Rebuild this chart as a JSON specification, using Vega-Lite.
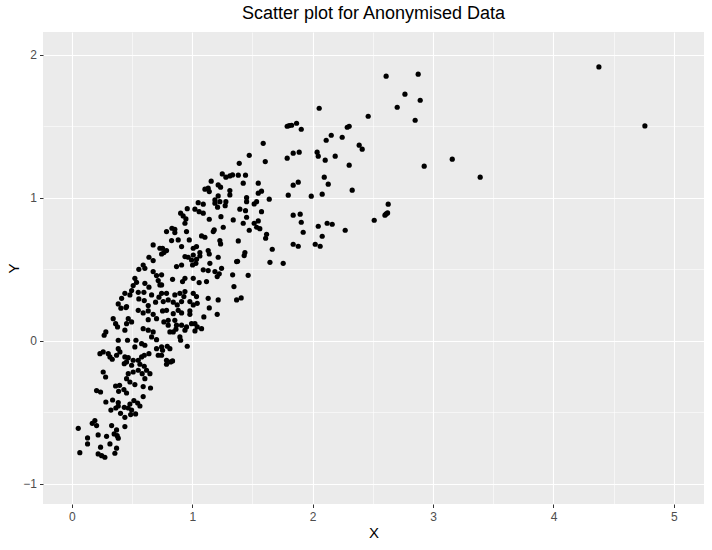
{
  "$schema": "https://vega.github.io/schema/vega-lite/v6.json",
  "title": {"text": "Scatter plot for Anonymised Data", "anchor": "middle", "fontSize": 18, "font": "Liberation Sans", "fontWeight": "normal", "color": "#000000", "offset": 9},
  "width": 661, "height": 472,
  "autosize": "none",
  "padding": {"left": 43, "top": 32, "right": 8, "bottom": 46},
  "background": "#ffffff",
  "config": {
    "view": {"fill": "#EBEBEB", "stroke": null},
    "axis": {"domain": false, "labelFont": "Liberation Sans", "titleFont": "Liberation Sans", "labelFontSize": 12, "labelColor": "#4D4D4D", "titleFontSize": 15, "titleFontWeight": "normal", "titleColor": "#000000", "tickColor": "#333333", "tickSize": 3.5, "gridColor": "#FFFFFF"}
  },
  "data": {"values": [
    {"x":0.205,"y":-0.347},{"x":0.238,"y":-0.357},{"x":0.363,"y":-0.315},{"x":0.396,"y":-0.310},{"x":0.388,"y":-0.352},{"x":0.432,"y":-0.340},{"x":0.454,"y":-0.364},{"x":0.523,"y":-0.305},{"x":0.592,"y":-0.319},{"x":0.653,"y":-0.329},
    {"x":0.282,"y":-0.427},{"x":0.338,"y":-0.413},{"x":0.385,"y":-0.431},{"x":0.385,"y":-0.455},{"x":0.324,"y":-0.483},{"x":0.365,"y":-0.469},{"x":0.435,"y":-0.464},{"x":0.468,"y":-0.469},{"x":0.482,"y":-0.441},{"x":0.515,"y":-0.417},
    {"x":0.546,"y":-0.434},{"x":0.565,"y":-0.455},{"x":0.496,"y":-0.483},{"x":0.488,"y":-0.515},{"x":0.529,"y":-0.510},{"x":0.440,"y":-0.534},{"x":0.404,"y":-0.506},{"x":0.592,"y":-0.389},{"x":0.191,"y":-0.557},{"x":0.169,"y":-0.576},
    {"x":0.205,"y":-0.592},{"x":0.330,"y":-0.592},{"x":0.440,"y":-0.599},{"x":0.371,"y":-0.622},{"x":0.351,"y":-0.650},{"x":0.376,"y":-0.662},{"x":0.385,"y":-0.680},{"x":0.218,"y":-0.657},{"x":0.288,"y":-0.667},{"x":0.130,"y":-0.678},
    {"x":0.130,"y":-0.720},{"x":0.316,"y":-0.720},{"x":0.238,"y":-0.743},{"x":0.371,"y":-0.750},{"x":0.218,"y":-0.790},{"x":0.247,"y":-0.802},{"x":0.274,"y":-0.813},{"x":0.357,"y":-0.785},{"x":0.053,"y":-0.611},{"x":0.066,"y":-0.781},
    {"x":0.407,"y":0.229},{"x":0.449,"y":0.233},{"x":0.551,"y":0.214},{"x":0.592,"y":0.196},{"x":0.634,"y":0.210},{"x":0.675,"y":0.186},{"x":0.634,"y":0.149},{"x":0.703,"y":0.156},{"x":0.343,"y":0.156},{"x":0.363,"y":0.121},
    {"x":0.379,"y":0.098},{"x":0.468,"y":0.156},{"x":0.454,"y":0.121},{"x":0.496,"y":0.133},{"x":0.440,"y":0.075},{"x":0.282,"y":0.063},{"x":0.268,"y":0.040},{"x":0.592,"y":0.086},{"x":0.634,"y":0.075},{"x":0.675,"y":0.063},
    {"x":0.662,"y":0.028},{"x":0.703,"y":0.009},{"x":0.385,"y":0.005},{"x":0.462,"y":0.005},{"x":0.532,"y":0.005},{"x":0.523,"y":-0.042},{"x":0.579,"y":-0.019},{"x":0.606,"y":-0.030},{"x":0.233,"y":-0.089},{"x":0.260,"y":-0.077},
    {"x":0.302,"y":-0.089},{"x":0.316,"y":-0.112},{"x":0.335,"y":-0.128},{"x":0.371,"y":-0.100},{"x":0.385,"y":-0.054},{"x":0.399,"y":-0.077},{"x":0.440,"y":-0.112},{"x":0.454,"y":-0.147},{"x":0.468,"y":-0.117},{"x":0.509,"y":-0.135},
    {"x":0.551,"y":-0.135},{"x":0.579,"y":-0.112},{"x":0.601,"y":-0.100},{"x":0.640,"y":-0.089},{"x":0.703,"y":-0.054},{"x":0.717,"y":-0.100},{"x":0.565,"y":-0.163},{"x":0.601,"y":-0.177},{"x":0.496,"y":-0.170},{"x":0.435,"y":-0.159},
    {"x":0.260,"y":-0.217},{"x":0.280,"y":-0.252},{"x":0.468,"y":-0.229},{"x":0.509,"y":-0.217},{"x":0.551,"y":-0.205},{"x":0.584,"y":-0.229},{"x":0.620,"y":-0.205},{"x":0.648,"y":-0.229},{"x":0.606,"y":-0.264},{"x":0.454,"y":-0.264},
    {"x":0.482,"y":-0.287},
    {"x":0.753,"y":0.210},{"x":0.786,"y":0.214},{"x":0.842,"y":0.191},{"x":0.883,"y":0.214},{"x":0.911,"y":0.196},{"x":0.980,"y":0.210},{"x":0.980,"y":0.186},{"x":0.764,"y":0.133},{"x":0.800,"y":0.144},{"x":0.800,"y":0.110},
    {"x":0.855,"y":0.144},{"x":0.869,"y":0.110},{"x":0.864,"y":0.082},{"x":0.842,"y":0.063},{"x":0.814,"y":0.063},{"x":0.911,"y":0.110},{"x":0.939,"y":0.075},{"x":0.952,"y":0.098},{"x":0.994,"y":0.121},{"x":1.022,"y":0.121},
    {"x":1.041,"y":0.098},{"x":1.077,"y":0.086},{"x":1.022,"y":0.070},{"x":0.897,"y":0.028},{"x":0.903,"y":0.005},{"x":1.096,"y":0.168},{"x":1.141,"y":0.231},{"x":1.207,"y":0.186},{"x":0.958,"y":-0.037},{"x":0.745,"y":-0.042},
    {"x":0.753,"y":-0.065},{"x":0.792,"y":-0.037},{"x":0.814,"y":-0.054},{"x":0.745,"y":-0.100},{"x":0.786,"y":-0.135},{"x":0.786,"y":-0.163},{"x":0.820,"y":-0.147},{"x":0.836,"y":-0.140},
    {"x":0.675,"y":0.671},{"x":0.731,"y":0.648},{"x":0.745,"y":0.608},{"x":0.640,"y":0.585},{"x":0.675,"y":0.562},{"x":0.592,"y":0.531},{"x":0.556,"y":0.501},{"x":0.606,"y":0.508},{"x":0.675,"y":0.485},{"x":0.703,"y":0.457},
    {"x":0.717,"y":0.422},{"x":0.745,"y":0.392},{"x":0.523,"y":0.438},{"x":0.537,"y":0.410},{"x":0.509,"y":0.387},{"x":0.496,"y":0.352},{"x":0.482,"y":0.322},{"x":0.551,"y":0.340},{"x":0.598,"y":0.340},{"x":0.606,"y":0.403},
    {"x":0.640,"y":0.376},{"x":0.440,"y":0.333},{"x":0.413,"y":0.298},{"x":0.385,"y":0.259},{"x":0.454,"y":0.240},{"x":0.556,"y":0.294},{"x":0.601,"y":0.282},{"x":0.634,"y":0.247},{"x":0.662,"y":0.322},{"x":0.695,"y":0.271},
    {"x":0.723,"y":0.306},{"x":0.745,"y":0.333},
    {"x":0.786,"y":0.765},{"x":0.855,"y":0.758},{"x":0.952,"y":0.765},{"x":1.077,"y":0.734},{"x":1.105,"y":0.725},{"x":1.174,"y":0.765},{"x":0.828,"y":0.702},{"x":0.883,"y":0.706},{"x":0.975,"y":0.706},{"x":0.911,"y":0.660},
    {"x":1.229,"y":0.702},{"x":1.235,"y":0.678},{"x":0.753,"y":0.648},{"x":0.764,"y":0.618},{"x":0.786,"y":0.632},{"x":1.008,"y":0.648},{"x":1.035,"y":0.660},{"x":1.132,"y":0.632},{"x":1.141,"y":0.608},{"x":1.008,"y":0.601},
    {"x":0.966,"y":0.585},{"x":0.994,"y":0.566},{"x":0.939,"y":0.590},{"x":1.035,"y":0.571},{"x":1.063,"y":0.594},{"x":1.063,"y":0.618},{"x":1.030,"y":0.543},{"x":1.002,"y":0.531},{"x":1.146,"y":0.543},{"x":1.215,"y":0.585},
    {"x":1.368,"y":0.555},{"x":0.869,"y":0.520},{"x":0.911,"y":0.531},{"x":1.091,"y":0.497},{"x":1.132,"y":0.492},{"x":1.188,"y":0.485},{"x":1.224,"y":0.469},{"x":1.243,"y":0.508},{"x":0.745,"y":0.462},{"x":0.836,"y":0.431},
    {"x":0.919,"y":0.415},{"x":0.939,"y":0.438},{"x":1.008,"y":0.438},{"x":1.057,"y":0.408},{"x":1.118,"y":0.415},{"x":1.207,"y":0.450},{"x":1.335,"y":0.462},{"x":1.346,"y":0.380},{"x":0.731,"y":0.392},{"x":0.786,"y":0.333},
    {"x":0.855,"y":0.322},{"x":0.897,"y":0.333},{"x":0.930,"y":0.310},{"x":0.939,"y":0.345},{"x":1.008,"y":0.333},{"x":1.035,"y":0.310},{"x":1.132,"y":0.298},{"x":1.215,"y":0.287},{"x":1.368,"y":0.287},{"x":0.759,"y":0.275},
    {"x":0.800,"y":0.287},{"x":0.842,"y":0.271},{"x":0.875,"y":0.252},{"x":0.911,"y":0.275},{"x":0.980,"y":0.275},{"x":1.008,"y":0.252},{"x":1.041,"y":0.263},
    {"x":1.589,"y":1.382},{"x":1.249,"y":1.168},{"x":1.279,"y":1.145},{"x":1.312,"y":1.154},{"x":1.334,"y":1.161},{"x":1.157,"y":1.117},{"x":1.215,"y":1.091},{"x":1.235,"y":1.075},{"x":1.105,"y":1.061},{"x":1.132,"y":1.068},
    {"x":1.141,"y":1.044},{"x":1.312,"y":1.051},{"x":1.312,"y":1.021},{"x":1.188,"y":0.986},{"x":1.188,"y":0.963},{"x":1.215,"y":1.014},{"x":1.229,"y":0.974},{"x":1.279,"y":0.974},{"x":1.273,"y":0.946},{"x":1.049,"y":0.967},
    {"x":1.091,"y":0.956},{"x":0.958,"y":0.925},{"x":1.022,"y":0.921},{"x":1.057,"y":0.904},{"x":1.091,"y":0.893},{"x":0.903,"y":0.893},{"x":0.924,"y":0.874},{"x":0.947,"y":0.853},{"x":0.939,"y":0.823},{"x":1.141,"y":0.851},
    {"x":1.238,"y":0.869},{"x":1.210,"y":0.935},{"x":1.340,"y":0.846},{"x":0.831,"y":0.788},{"x":0.855,"y":0.781},{"x":1.182,"y":0.776},{"x":1.257,"y":0.795},
    {"x":1.473,"y":1.298},{"x":1.390,"y":1.242},{"x":1.606,"y":1.254},{"x":1.382,"y":1.159},{"x":1.442,"y":1.159},{"x":1.423,"y":1.103},{"x":1.548,"y":1.103},{"x":1.548,"y":1.033},{"x":1.575,"y":1.047},{"x":1.451,"y":1.002},
    {"x":1.451,"y":0.974},{"x":1.534,"y":0.974},{"x":1.514,"y":0.958},{"x":1.639,"y":0.991},{"x":1.395,"y":0.921},{"x":1.442,"y":0.911},{"x":1.575,"y":0.904},{"x":1.451,"y":0.865},{"x":1.423,"y":0.823},{"x":1.514,"y":0.823},
    {"x":1.548,"y":0.839},{"x":1.534,"y":0.795},{"x":1.561,"y":0.785},{"x":1.473,"y":0.774},{"x":1.617,"y":0.746},{"x":1.609,"y":0.718},{"x":1.382,"y":0.699},{"x":1.437,"y":0.618},{"x":1.431,"y":0.597},{"x":1.376,"y":0.557},
    {"x":1.645,"y":0.550},{"x":1.464,"y":0.459},{"x":1.406,"y":0.301},{"x":1.755,"y":0.543},
    {"x":2.610,"y":1.851},{"x":2.876,"y":1.865},{"x":2.766,"y":1.725},{"x":2.893,"y":1.683},{"x":2.702,"y":1.634},{"x":2.851,"y":1.543},{"x":2.054,"y":1.627},{"x":2.461,"y":1.571},{"x":1.788,"y":1.501},{"x":1.805,"y":1.506},
    {"x":1.825,"y":1.508},{"x":1.866,"y":1.522},{"x":1.905,"y":1.480},{"x":2.287,"y":1.494},{"x":2.303,"y":1.501},{"x":2.154,"y":1.438},{"x":2.112,"y":1.403},{"x":2.245,"y":1.424},{"x":2.386,"y":1.369},{"x":2.411,"y":1.341},
    {"x":1.788,"y":1.278},{"x":1.838,"y":1.313},{"x":1.888,"y":1.320},{"x":2.037,"y":1.320},{"x":2.046,"y":1.292},{"x":2.104,"y":1.264},{"x":2.187,"y":1.292},{"x":2.303,"y":1.229},{"x":3.159,"y":1.271},{"x":2.926,"y":1.222},
    {"x":3.391,"y":1.145},{"x":2.096,"y":1.145},{"x":2.129,"y":1.096},{"x":1.838,"y":1.089},{"x":1.880,"y":1.110},{"x":2.328,"y":1.054},{"x":1.797,"y":1.019},{"x":1.988,"y":1.012},{"x":2.079,"y":1.026},{"x":2.627,"y":0.956},
    {"x":2.600,"y":0.879},{"x":2.610,"y":0.888},{"x":2.622,"y":0.895},{"x":2.511,"y":0.844},{"x":1.838,"y":0.879},{"x":1.896,"y":0.886},{"x":1.905,"y":0.830},{"x":1.921,"y":0.760},{"x":2.046,"y":0.802},{"x":2.120,"y":0.823},
    {"x":2.162,"y":0.816},{"x":2.270,"y":0.774},{"x":2.079,"y":0.732},{"x":1.838,"y":0.676},{"x":1.880,"y":0.662},{"x":2.021,"y":0.676},{"x":2.062,"y":0.662},{"x":1.664,"y":0.641},{"x":4.377,"y":1.916},{"x":4.759,"y":1.503}
  ]},
  "encoding": {
    "x": {"field": "x", "type": "quantitative", "scale": {"domain": [-0.24, 5.25], "nice": false, "zero": false}},
    "y": {"field": "y", "type": "quantitative", "scale": {"domain": [-1.14, 2.16], "nice": false, "zero": false}}
  },
  "layer": [
    {
      "mark": {"type": "point", "opacity": 0},
      "encoding": {
        "x": {"field": "x", "type": "quantitative", "axis": {"orient": "bottom", "values": [0.5, 1.5, 2.5, 3.5, 4.5], "grid": true, "gridWidth": 0.55, "labels": false, "ticks": false, "title": null}},
        "y": {"field": "y", "type": "quantitative", "axis": {"orient": "left", "values": [-0.5, 0.5, 1.5], "grid": true, "gridWidth": 0.55, "labels": false, "ticks": false, "title": null}}
      }
    },
    {
      "mark": {"type": "circle", "color": "#000000", "opacity": 1, "size": 27},
      "encoding": {
        "x": {"field": "x", "type": "quantitative", "axis": {"orient": "bottom", "values": [0, 1, 2, 3, 4, 5], "grid": true, "gridWidth": 1.1, "title": "X", "labelPadding": 4, "titlePadding": 3}},
        "y": {"field": "y", "type": "quantitative", "axis": {"orient": "left", "values": [-1, 0, 1, 2], "grid": true, "gridWidth": 1.1, "title": "Y", "labelPadding": 3, "titlePadding": 1}}
      }
    }
  ],
  "resolve": {"axis": {"x": "independent", "y": "independent"}}
}
